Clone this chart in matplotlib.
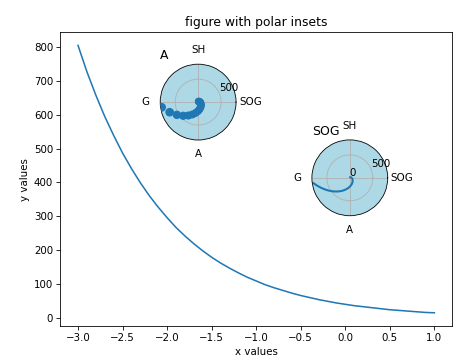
import matplotlib
matplotlib.use("Agg")
import matplotlib.pyplot as plt
import numpy as np

x_values = [-3.0, -2.9, -2.8, -2.7, -2.6, -2.5, -2.4, -2.3, -2.2, -2.1, -2.0,
            -1.9, -1.8, -1.7, -1.6, -1.5, -1.4, -1.3, -1.2, -1.1, -1.0,
            -0.9, -0.8, -0.7, -0.6, -0.5, -0.4, -0.3, -0.2, -0.1, 0.0,
            0.1, 0.2, 0.3, 0.4, 0.5, 0.6, 0.7, 0.8, 0.9, 1.0]
y_values = [805, 727, 658, 595, 539, 487, 441, 399, 361, 327, 296,
            267, 242, 219, 198, 179, 162, 147, 133, 120, 109,
            98, 89, 81, 73, 66, 60, 54, 49, 44, 40,
            36, 33, 30, 27, 24, 22, 20, 18, 16, 15]
theta_labels = ["SOG", "SH", "G", "A"]
theta_ticks_deg = [0, 90, 180, 270]
r_ticks = [0, 500]
inset_titles = ["A", "SOG"]

fig = plt.figure(figsize=(474 / 74, 364 / 74), dpi=74)
ax = fig.add_axes([0.127, 0.104, 0.827, 0.808])
ax.plot(x_values, y_values, color="C0", lw=1.5)
ax.set_title("figure with polar insets")
ax.set_xlabel("x values")
ax.set_ylabel("y values")

x = np.array(x_values)
y = np.array(y_values)

def style_polar(pax, title):
    pax.set_facecolor("lightblue")
    pax.set_thetagrids(theta_ticks_deg, theta_labels)
    pax.set_rticks(r_ticks)
    pax.set_rlim(0, 826)
    pax.grid(True, color="#b0b0b0", lw=0.8)
    pax.set_title(title, loc="left", y=1.0, pad=5)

p1 = fig.add_axes([0.338, 0.615, 0.160, 0.209], projection="polar")
xs, ys = x[::2], y[::2]
p1.scatter(xs, ys, s=38 + ys / 40, color="C0", zorder=5)
style_polar(p1, inset_titles[0])
# the centre label is hidden under the markers in the reference
p1.set_yticklabels(["", "500"])

p2 = fig.add_axes([0.658, 0.407, 0.160, 0.209], projection="polar")
p2.plot(x, y, color="C0", lw=2)
style_polar(p2, inset_titles[1])

fig.savefig("out.png", dpi=74)
